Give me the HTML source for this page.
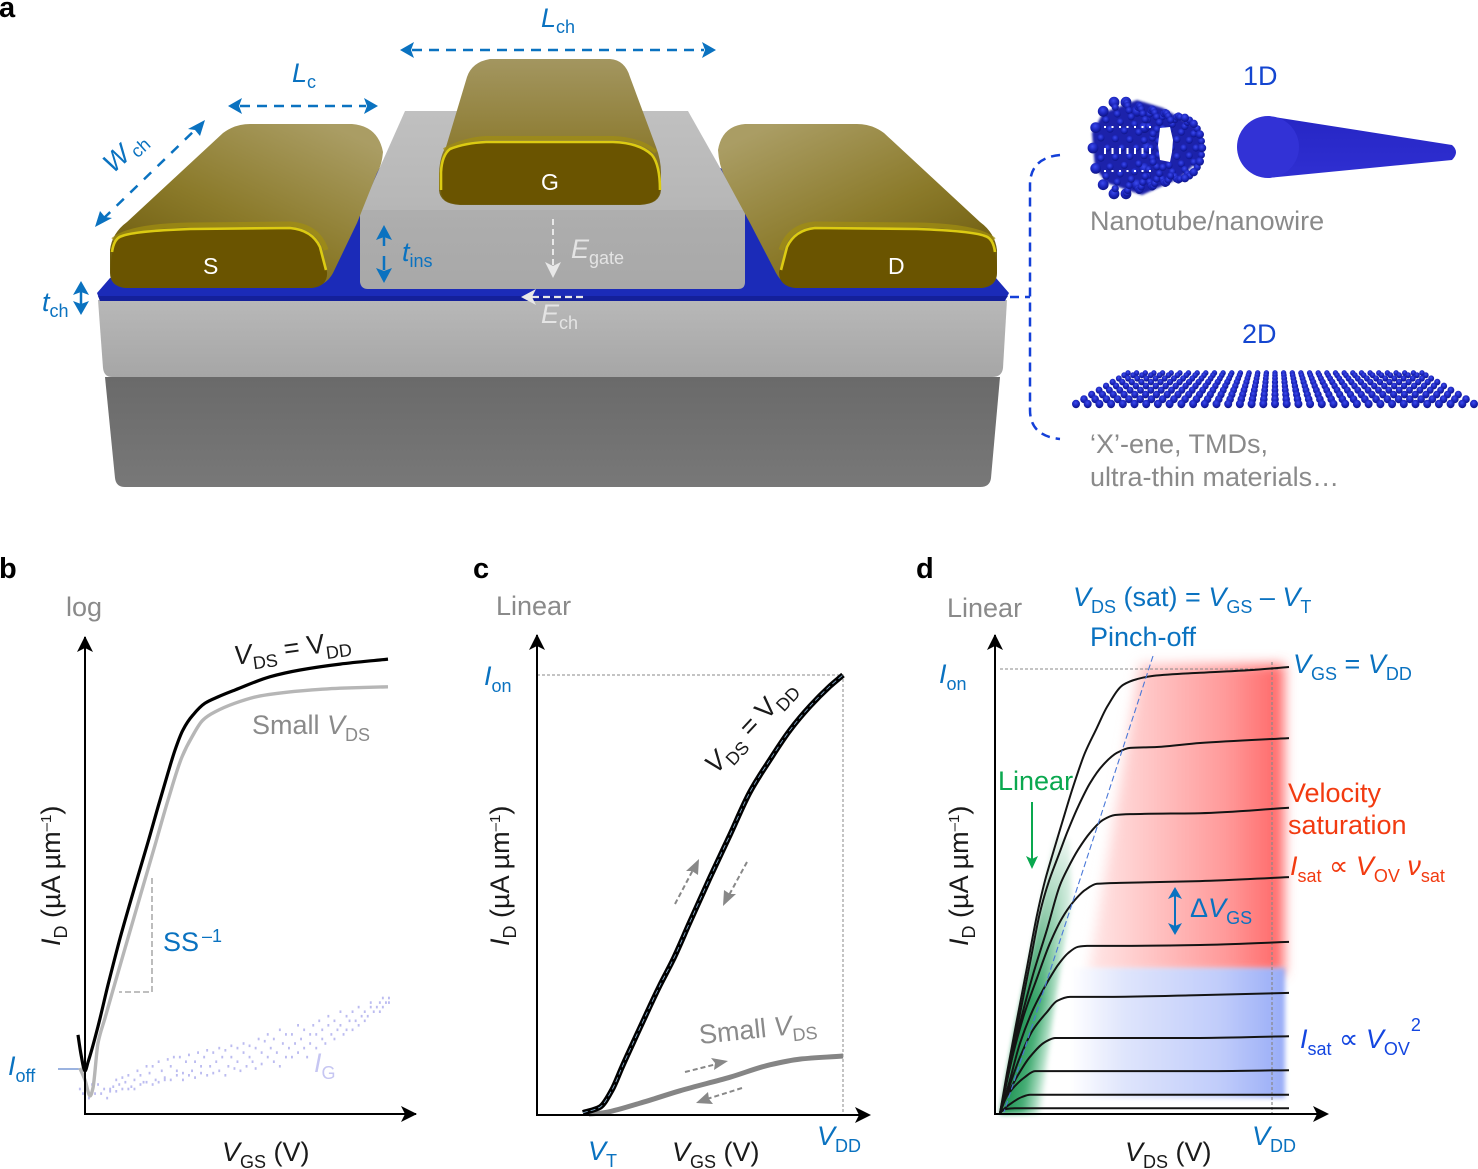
<!DOCTYPE html>
<html lang="en">
<head>
<meta charset="utf-8">
<title>Transistor device schematic and characteristic curves</title>
<style>
html,body{margin:0;padding:0;background:#fff;}
svg{display:block;font-family:"Liberation Sans",sans-serif;}
text{font-size:27px;}
.blue{fill:#0a72c0;}
.grey{fill:#8a8a8a;}
.blk{fill:#1a1a1a;}
.panel{font-weight:bold;font-size:29px;fill:#000;}
</style>
</head>
<body>
<svg id="fig" xmlns="http://www.w3.org/2000/svg" width="1478" height="1169" viewBox="0 0 1478 1169">
<defs>
  <linearGradient id="baseG" x1="0" y1="0" x2="0" y2="1"><stop offset="0" stop-color="#6a6a6a"/><stop offset="1" stop-color="#787878"/></linearGradient>
  <linearGradient id="midG" x1="0" y1="0" x2="0" y2="1"><stop offset="0" stop-color="#b8b8b8"/><stop offset="1" stop-color="#a6a6a6"/></linearGradient>
  <linearGradient id="insTop" x1="0" y1="0" x2="0" y2="1"><stop offset="0" stop-color="#c0c0c0"/><stop offset="1" stop-color="#b6b6b6"/></linearGradient>
  <linearGradient id="insFront" x1="0" y1="0" x2="0" y2="1"><stop offset="0" stop-color="#aeaeae"/><stop offset="1" stop-color="#a8a8a8"/></linearGradient>
  <linearGradient id="goldTop" x1="0" y1="0" x2="0" y2="1"><stop offset="0" stop-color="#a39660"/><stop offset="0.55" stop-color="#8f7e36"/><stop offset="1" stop-color="#6c5a0c"/></linearGradient>
  <linearGradient id="goldS" x1="0" y1="1" x2="0.8" y2="0"><stop offset="0" stop-color="#665406"/><stop offset="0.5" stop-color="#8b7a2a"/><stop offset="1" stop-color="#aa9d64"/></linearGradient>
  <linearGradient id="goldD" x1="1" y1="1" x2="0.2" y2="0"><stop offset="0" stop-color="#665406"/><stop offset="0.5" stop-color="#8b7a2a"/><stop offset="1" stop-color="#aa9d64"/></linearGradient>
  <linearGradient id="wireG" x1="0" y1="0" x2="0" y2="1"><stop offset="0" stop-color="#2626c4"/><stop offset="1" stop-color="#2f2fd2"/></linearGradient>
  <radialGradient id="ball" cx="0.45" cy="0.35" r="0.65"><stop offset="0" stop-color="#3c4af0"/><stop offset="0.6" stop-color="#1a24b8"/><stop offset="1" stop-color="#0e1484"/></radialGradient>
  <linearGradient id="redG" gradientUnits="userSpaceOnUse" x1="1095" y1="0" x2="1285" y2="0"><stop offset="0" stop-color="#ffe4e4"/><stop offset="0.3" stop-color="#ffc4c4"/><stop offset="0.7" stop-color="#ff9898"/><stop offset="1" stop-color="#ff6464"/></linearGradient>
  <linearGradient id="blueG" gradientUnits="userSpaceOnUse" x1="1070" y1="0" x2="1285" y2="0"><stop offset="0" stop-color="#ffffff"/><stop offset="0.25" stop-color="#dfe5fc"/><stop offset="0.7" stop-color="#c0ccfa"/><stop offset="1" stop-color="#98acf7"/></linearGradient>
  <linearGradient id="greenG" gradientUnits="userSpaceOnUse" x1="1000" y1="0" x2="1042" y2="0" gradientTransform="matrix(1 0 -0.17 1 189.4 0)"><stop offset="0" stop-color="#1a8f4e"/><stop offset="0.5" stop-color="#45ad75"/><stop offset="0.8" stop-color="#a8dcc0"/><stop offset="1" stop-color="#ffffff"/></linearGradient>
  <linearGradient id="greenFade" gradientUnits="userSpaceOnUse" x1="0" y1="830" x2="0" y2="1000"><stop offset="0" stop-color="#fff" stop-opacity="0.95"/><stop offset="1" stop-color="#fff" stop-opacity="0"/></linearGradient>
  <filter id="blur6" x="-20%" y="-20%" width="140%" height="140%"><feGaussianBlur stdDeviation="6"/></filter>
  <filter id="blur2" x="-20%" y="-20%" width="140%" height="140%"><feGaussianBlur stdDeviation="2.5"/></filter>
  <filter id="blur1" x="-20%" y="-20%" width="140%" height="140%"><feGaussianBlur stdDeviation="1"/></filter>
</defs>

<g id="panel-a">
  <path d="M105,377 L1000,377 L991,478 Q990,487 980,487 L125,487 Q116,487 115,478 Z" fill="url(#baseG)"/>
  <path d="M98,300 L1007,300 L1003,368 Q1002,377 992,377 L112,377 Q104,377 103,368 Z" fill="url(#midG)"/>
  <path d="M380,168 L720,168 L996,278 L1009,293 L1005,301 L100,301 L97,293 L110,278 Z" fill="#1b2bb8"/>
  <path d="M98,296 L1008,296 L1004,301 L100,301 Z" fill="#14209a"/>

  <path d="M405,111 L688,111 L745,212 L360,212 Z" fill="url(#insTop)"/>
  <path d="M360,210 L745,210 L745,282 Q745,289 738,289 L368,289 Q361,289 360,282 Z" fill="url(#insFront)"/>

  <path d="M110,273 L110,250 Q112,233 127,222 L223,133 Q235,124 250,124 L352,124 Q378,126 383,152 Q382,165 377,173 L357,223 L333,273 Q326,286 310,288 L125,288 Q110,286 110,273 Z" fill="url(#goldS)"/>
  <path d="M111,272 Q110,245 122,236 Q135,231 190,229 L290,228 Q312,230 320,247 L327,272 Q328,286 312,288 L128,288 Q111,287 111,272 Z" fill="#6a5400"/>
  <path d="M113,240 Q130,226 190,225 L290,224 Q318,226 326,250" fill="none" stroke="#a18e10" stroke-width="5" opacity="0.7"/>
  <path d="M112,252 Q114,238 122,236 Q135,231 190,229 L290,228 Q312,230 320,247 L326,270" fill="none" stroke="#dccb12" stroke-width="2.6"/>

  <path d="M997,273 L997,250 Q995,233 980,222 L884,133 Q872,124 857,124 L745,124 Q722,126 718,150 Q719,165 724,175 L750,223 L776,273 Q783,286 797,288 L982,288 Q997,286 997,273 Z" fill="url(#goldD)"/>
  <path d="M997,272 Q997,245 985,236 Q972,231 917,229 L815,228 Q795,230 787,247 L779,272 Q779,286 795,288 L980,288 Q996,287 997,272 Z" fill="#6a5400"/>
  <path d="M994,240 Q977,226 917,225 L815,224 Q789,226 781,250" fill="none" stroke="#a18e10" stroke-width="5" opacity="0.7"/>
  <path d="M995,252 Q993,238 985,236 Q972,231 917,229 L815,228 Q795,230 787,247 L781,270" fill="none" stroke="#dccb12" stroke-width="2.6"/>

  <path d="M439,185 L439,173 Q440,155 446,147 L467,77 Q472,62 490,59 L610,59 Q625,60 630,77 L656,147 Q661,160 661,173 L661,190 Q660,204 640,205 L460,205 Q440,204 439,190 Z" fill="url(#goldTop)"/>
  <path d="M441,190 L441,172 Q442,155 450,149 Q465,143 486,142 L613,142 Q640,143 652,155 Q660,165 660,190 Q659,204 640,204 L460,204 Q441,204 441,190 Z" fill="#6a5400"/>
  <path d="M444,150 Q465,139 486,138 L613,138 Q640,139 656,152" fill="none" stroke="#a18e10" stroke-width="4" opacity="0.7"/>
  <path d="M441,190 L441,172 Q442,155 450,149 Q465,143 486,142 L613,142 Q640,143 652,155 Q660,165 660,190" fill="none" stroke="#dccb12" stroke-width="2.6"/>

  <text x="203" y="274" style="font-size:23px" fill="#fff">S</text>
  <text x="541" y="190" style="font-size:23px" fill="#fff">G</text>
  <text x="888" y="274" style="font-size:23px" fill="#fff">D</text>

  <g fill="#0a72c0">
    <line x1="412" y1="50" x2="704" y2="50" stroke="#0a72c0" stroke-width="2.5" stroke-dasharray="10 7"/>
    <path d="M400,50 L414,42 L411,50 L414,58 Z M716,50 L702,42 L705,50 L702,58 Z"/>
  </g>
  <g fill="#0a72c0">
    <line x1="240" y1="106" x2="366" y2="106" stroke="#0a72c0" stroke-width="2.5" stroke-dasharray="10 7"/>
    <path d="M228,106 L242,98 L239,106 L242,114 Z M378,106 L364,98 L367,106 L364,114 Z"/>
  </g>
  <g fill="#0a72c0">
    <line x1="103" y1="219" x2="197" y2="128" stroke="#0a72c0" stroke-width="2.5" stroke-dasharray="10 9"/>
    <path d="M95,227 L100,211 L105,217 L112,218 Z M205,120 L200,136 L195,130 L188,129 Z"/>
  </g>
  <g fill="#0a72c0">
    <line x1="81" y1="288" x2="81" y2="308" stroke="#0a72c0" stroke-width="2.5"/>
    <path d="M81,281 L89,295 L81,292 L73,295 Z M81,315 L89,301 L81,304 L73,301 Z"/>
  </g>
  <g fill="#0a72c0">
    <line x1="384" y1="232" x2="384" y2="276" stroke="#0a72c0" stroke-width="2.5" stroke-dasharray="14 10"/>
    <path d="M384,225 L392,240 L384,237 L376,240 Z M384,283 L392,268 L384,271 L376,268 Z"/>
  </g>
  <g fill="#e8e8e8">
    <line x1="553" y1="219" x2="553" y2="268" stroke="#e8e8e8" stroke-width="2" stroke-dasharray="6 4"/>
    <path d="M553,278 L545,262 L553,266 L561,262 Z"/>
  </g>
  <g fill="#e8e8e8">
    <line x1="532" y1="297" x2="584" y2="297" stroke="#e8e8e8" stroke-width="2.2" stroke-dasharray="7 4"/>
    <path d="M521,297 L536,289 L532,297 L536,305 Z"/>
  </g>

  <text class="blue" x="541" y="27" font-style="italic">L<tspan font-style="normal" dy="6" style="font-size:18px">ch</tspan></text>
  <text class="blue" x="292" y="82" font-style="italic">L<tspan font-style="normal" dy="6" style="font-size:18px">c</tspan></text>
  <text class="blue" transform="translate(113,174) rotate(-42)" font-style="italic">W<tspan font-style="normal" dx="3" dy="5" style="font-size:18px">ch</tspan></text>
  <text class="blue" x="42" y="311" font-style="italic">t<tspan font-style="normal" dy="6" style="font-size:18px">ch</tspan></text>
  <text class="blue" x="402" y="261" font-style="italic">t<tspan font-style="normal" dy="6" style="font-size:18px">ins</tspan></text>
  <text x="571" y="258" font-style="italic" fill="#e4e4e4">E<tspan font-style="normal" dy="6" style="font-size:18px">gate</tspan></text>
  <text x="541" y="323" font-style="italic" fill="#e4e4e4">E<tspan font-style="normal" dy="6" style="font-size:18px">ch</tspan></text>

  <path d="M1060,155 Q1030,158 1030,185 L1030,410 Q1030,436 1060,439 M1010,297 L1030,297" fill="none" stroke="#1440d8" stroke-width="2.5" stroke-dasharray="9 6"/>
  <path d="M1103,113 L1137,100 L1163,108 L1200,130 L1202,157 L1180,178 L1142,195 L1107,183 L1095,168 L1092,133 Z" fill="#1a20aa" filter="url(#blur1)"/>
  <g id="nanotube"></g>
  <path d="M1268,116 L1452,145 Q1460,152 1452,160 L1268,178 Z" fill="url(#wireG)"/>
  <ellipse cx="1268" cy="147" rx="31" ry="31" fill="#3232d6"/>
  <g id="sheet"></g>
  <text x="1243" y="85" fill="#1446d0">1D</text>
  <text x="1242" y="343" fill="#1446d0">2D</text>
  <text class="grey" x="1090" y="230">Nanotube/nanowire</text>
  <text class="grey" x="1090" y="453">‘X’-ene, TMDs,</text>
  <text class="grey" x="1090" y="486">ultra-thin materials…</text>
</g>

<text class="panel" style="font-size:29px" x="-1" y="17">a</text>
<text class="panel" style="font-size:29px" x="-1" y="578">b</text>
<text class="panel" style="font-size:29px" x="473" y="578">c</text>
<text class="panel" style="font-size:29px" x="916" y="578">d</text>

<g id="panel-b">
  <g id="b-ig"></g>
  <path d="M152,878 L152,992 L119,992" fill="none" stroke="#999" stroke-width="1.3" stroke-dasharray="6 3"/>
  <line x1="58" y1="1069" x2="80" y2="1069" stroke="#7a9ad6" stroke-width="1.5"/>
  <g id="b-lines"></g>
  <line x1="85" y1="1115" x2="85" y2="637" stroke="#000" stroke-width="2"/>
  <path d="M85,636 L93,652 L85,648 L77,652 Z" fill="#000"/>
  <line x1="84" y1="1114" x2="416" y2="1114" stroke="#000" stroke-width="2"/>
  <path d="M417,1114 L401,1106 L405,1114 L401,1122 Z" fill="#000"/>
  <text class="grey" x="66" y="616">log</text>
  <text class="blk" transform="translate(60,946) rotate(-90)"><tspan font-style="italic">I</tspan><tspan dy="7" style="font-size:18px">D</tspan><tspan dy="-7"> (µA µm</tspan><tspan dy="-9" style="font-size:15px">–1</tspan><tspan dy="9">)</tspan></text>
  <text class="blk" x="222" y="1161"><tspan font-style="italic">V</tspan><tspan dy="7" style="font-size:18px">GS</tspan><tspan dy="-7"> (V)</tspan></text>
  <text class="blue" x="163" y="951">SS<tspan dx="3" dy="-9" style="font-size:18px">–1</tspan></text>
  <text class="blk" transform="translate(235,665) rotate(-8)"><tspan font-style="italic">V</tspan><tspan dy="7" style="font-size:18px">DS</tspan><tspan dy="-7"> = V</tspan><tspan dy="7" style="font-size:18px">DD</tspan></text>
  <text class="grey" x="252" y="734">Small <tspan font-style="italic">V</tspan><tspan dy="7" style="font-size:18px">DS</tspan></text>
  <text class="blue" x="8" y="1075"><tspan font-style="italic">I</tspan><tspan dy="7" style="font-size:18px">off</tspan></text>
  <text x="314" y="1072" fill="#c6c6f2"><tspan font-style="italic">I</tspan><tspan dy="7" style="font-size:18px">G</tspan></text>
</g>

<g id="panel-c">
  <path d="M537,675 L843,675 L843,1115" fill="none" stroke="#888" stroke-width="1" stroke-dasharray="3 2"/>
  <g id="c-lines"></g>
  <g stroke="#888" stroke-width="2" stroke-dasharray="5 3" fill="none">
    <line x1="675" y1="904" x2="694" y2="868"/><line x1="747" y1="862" x2="728" y2="897"/>
    <line x1="685" y1="1072" x2="717" y2="1064"/><line x1="742" y1="1088" x2="707" y2="1099"/>
  </g>
  <g fill="#888">
    <path d="M699,859 L698,875 L692,871 L686,871 Z M723,906 L724,890 L730,894 L736,894 Z M728,1061 L714,1070 L715,1063 L711,1058 Z M696,1103 L708,1092 L709,1099 L713,1104 Z"/>
  </g>
  <line x1="537" y1="1115" x2="537" y2="635" stroke="#000" stroke-width="2"/>
  <path d="M537,634 L545,650 L537,646 L529,650 Z" fill="#000"/>
  <line x1="536" y1="1115" x2="868" y2="1115" stroke="#000" stroke-width="2"/>
  <path d="M871,1115 L855,1107 L859,1115 L855,1123 Z" fill="#000"/>
  <text class="grey" x="496" y="615">Linear</text>
  <text class="blue" x="484" y="685"><tspan font-style="italic">I</tspan><tspan dy="7" style="font-size:18px">on</tspan></text>
  <text class="blk" transform="translate(509,946) rotate(-90)"><tspan font-style="italic">I</tspan><tspan dy="7" style="font-size:18px">D</tspan><tspan dy="-7"> (µA µm</tspan><tspan dy="-9" style="font-size:15px">–1</tspan><tspan dy="9">)</tspan></text>
  <text class="blk" transform="translate(716,775) rotate(-47)"><tspan font-style="italic">V</tspan><tspan dy="7" style="font-size:18px">DS</tspan><tspan dy="-7"> = V</tspan><tspan dy="7" style="font-size:18px">DD</tspan></text>
  <text class="grey" transform="translate(700,1044) rotate(-6)">Small <tspan font-style="italic">V</tspan><tspan dy="7" style="font-size:18px">DS</tspan></text>
  <text class="blue" x="588" y="1160"><tspan font-style="italic">V</tspan><tspan dy="7" style="font-size:18px">T</tspan></text>
  <text class="blk" x="672" y="1161"><tspan font-style="italic">V</tspan><tspan dy="7" style="font-size:18px">GS</tspan><tspan dy="-7"> (V)</tspan></text>
  <text class="blue" x="817" y="1145"><tspan font-style="italic">V</tspan><tspan dy="7" style="font-size:18px">DD</tspan></text>
</g>

<g id="panel-d">
  <path d="M1140,664 L1284,664 L1284,974 L1088,974 Z" fill="url(#redG)" filter="url(#blur6)"/>
  <path d="M1070,968 L1285,968 L1285,1098 L1070,1098 Z" fill="url(#blueG)" filter="url(#blur2)"/>
  <path d="M1000,1114 L1042,1114 L1048,1060 L1056,1000 L1072,900 L1070,840 L1055,835 L1045,885 L1015,1030 Z" fill="url(#greenG)" filter="url(#blur2)"/>
  <path d="M1040,825 L1080,825 L1080,1000 L1020,1000 Z" fill="url(#greenFade)"/>
  <path d="M1000,669 L1280,669" fill="none" stroke="#888" stroke-width="1" stroke-dasharray="3 2"/>
  <path d="M1272,662 L1272,1114" fill="none" stroke="#888" stroke-width="1.2" stroke-dasharray="3 2"/>
  <g id="d-lines"></g>
  <line x1="1153" y1="656" x2="1004" y2="1112" stroke="#4a78d8" stroke-width="1.1" stroke-dasharray="6 3"/>
  <g>
    <line x1="1032" y1="802" x2="1032" y2="862" stroke="#0aa84f" stroke-width="2"/>
    <path d="M1032,869 L1026,856 L1032,859 L1038,856 Z" fill="#0aa84f"/>
  </g>
  <g fill="#0a72c0">
    <line x1="1175" y1="893" x2="1175" y2="930" stroke="#0a72c0" stroke-width="2"/>
    <path d="M1175,887 L1182,899 L1175,896 L1168,899 Z M1175,935 L1182,923 L1175,926 L1168,923 Z"/>
  </g>
  <line x1="995" y1="1115" x2="995" y2="635" stroke="#000" stroke-width="2"/>
  <path d="M995,634 L1003,650 L995,646 L987,650 Z" fill="#000"/>
  <line x1="994" y1="1114" x2="1325" y2="1114" stroke="#000" stroke-width="2"/>
  <path d="M1329,1114 L1313,1106 L1317,1114 L1313,1122 Z" fill="#000"/>
  <text class="grey" x="947" y="617">Linear</text>
  <text class="blue" x="939" y="683"><tspan font-style="italic">I</tspan><tspan dy="7" style="font-size:18px">on</tspan></text>
  <text class="blk" transform="translate(968,946) rotate(-90)"><tspan font-style="italic">I</tspan><tspan dy="7" style="font-size:18px">D</tspan><tspan dy="-7"> (µA µm</tspan><tspan dy="-9" style="font-size:15px">–1</tspan><tspan dy="9">)</tspan></text>
  <text class="blue" x="1073" y="606"><tspan font-style="italic">V</tspan><tspan dy="7" style="font-size:18px">DS</tspan><tspan dy="-7"> (sat) = </tspan><tspan font-style="italic">V</tspan><tspan dy="7" style="font-size:18px">GS</tspan><tspan dy="-7"> – </tspan><tspan font-style="italic">V</tspan><tspan dy="7" style="font-size:18px">T</tspan></text>
  <text class="blue" x="1090" y="646">Pinch-off</text>
  <text class="blue" x="1293" y="673"><tspan font-style="italic">V</tspan><tspan dy="7" style="font-size:18px">GS</tspan><tspan dy="-7"> = </tspan><tspan font-style="italic">V</tspan><tspan dy="7" style="font-size:18px">DD</tspan></text>
  <text x="998" y="790" fill="#0aa84f">Linear</text>
  <text x="1288" y="802" fill="#f23a10">Velocity</text>
  <text x="1288" y="834" fill="#f23a10">saturation</text>
  <text x="1290" y="875" fill="#f23a10"><tspan font-style="italic">I</tspan><tspan dy="7" style="font-size:18px">sat</tspan><tspan dy="-7"> ∝ </tspan><tspan font-style="italic">V</tspan><tspan dy="7" style="font-size:18px">OV</tspan><tspan dy="-7"> </tspan><tspan font-style="italic">ν</tspan><tspan dy="7" style="font-size:18px">sat</tspan></text>
  <text class="blue" x="1190" y="917">Δ<tspan font-style="italic">V</tspan><tspan dy="7" style="font-size:18px">GS</tspan></text>
  <text x="1300" y="1048" fill="#1446e0"><tspan font-style="italic">I</tspan><tspan dy="7" style="font-size:18px">sat</tspan><tspan dy="-7"> ∝ </tspan><tspan font-style="italic">V</tspan><tspan dy="7" style="font-size:18px">OV</tspan><tspan dy="-24" dx="1" style="font-size:18px">2</tspan></text>
  <text class="blk" x="1125" y="1161"><tspan font-style="italic">V</tspan><tspan dy="7" style="font-size:18px">DS</tspan><tspan dy="-7"> (V)</tspan></text>
  <text class="blue" x="1252" y="1145"><tspan font-style="italic">V</tspan><tspan dy="7" style="font-size:18px">DD</tspan></text>
</g>

<script>
// Panel b: transfer curves, log current (arbitrary units, 0-100 on each axis)
const bHighX = [-2.3,-1.3,0,1,4,7.6,11.6,16.5,20.5,24.1,27.4,29.7,32.3,35.6,39.6,43.9,49.5,61,71,84.2,100];
const bHighY = [17.6,13.2,9.7,11.6,18.7,28.6,38.9,50.3,59.3,67.7,75.2,80.2,84.6,87.9,90.5,91.9,93.4,96.3,97.8,99.1,100.2];
const bLowX = [-1.7,0,1.7,2.6,4.3,6.6,9.9,14.2,18.8,23.1,27.4,32,35.3,38.9,42.9,49.5,57.8,71,84.2,100];
const bLowY = [10.3,7.7,4.2,5.9,15.8,21.3,29,38.9,49.5,59.3,69.2,78.7,83.1,86.8,88.6,90.5,92.1,93.2,93.8,94.1];
const igX = [-2,-1,0,1,2,3,4,5,6,7,
  8,8,9,10,10,11,12,12,13,14,
  14,15,16,16,17,18,18,19,20,20,
  21,22,22,23,24,24,25,26,26,27,
  28,28,29,30,30,31,32,32,33,34,
  34,35,36,36,37,38,38,39,40,40,
  41,42,42,43,44,44,45,46,46,47,
  48,48,49,50,50,51,52,52,53,54,
  54,55,56,56,57,58,58,59,60,60,
  61,62,62,63,64,64,65,66,66,67,
  68,68,69,70,70,71,72,72,73,74,
  74,75,76,76,77,78,78,79,80,80,
  81,82,82,83,84,84,85,86,86,87,
  88,88,89,90,90,91,92,93,94,95,
  96,97,97,98,98,99,100,100,92,94];
const igY = [6,5,6,4,7,5,7,5,6,4,
  6,5.5,6.5,8,5.5,7,8.5,6,7.5,6,
  9,6.5,8,6,10,7,9,7.5,11,7.5,
  9.5,7,11,8,12,7.5,10,8.5,8,12.5,
  8,11,13,9,10,13,9.5,8,12,9,
  13.5,10,8.5,12,14,9.5,11,13,9,14.5,
  11,9.5,14,12,15,10,13,9,14.5,11,
  13,15.5,10.5,12,15,10,14,16,11,13,
  15.5,12,10.5,15,17,11.5,14,16.5,13,18,
  15,12,17,14,19,11,16,13,18,15,
  13,18,16,20,14,17,15,19,13,18,
  16,20,15,18,21,17,19,16,20,22,
  18,21,17,19,23,20,18,22,19,21,
  19,23,21,24,20,22,23,22,24,23,
  24,23,25,24,26,25,25,26,21,25];

// Panel c: transfer curves, linear current
const cHighX = [15,20.6,24.5,27.8,31.4,35.9,40.2,44.4,50,56.5,63.1,69.6,76.1,82.7,89.2,95.8,100];
const cHighY = [0.5,1.8,5.7,10.9,16.4,23.2,29.5,35.2,43.9,53.9,63.7,73.4,80.7,87.5,92.9,97.5,100];
const cLowX = [17,21.6,33.7,46.7,63.1,76.1,85.9,100];
const cLowY = [0.2,0.5,2.7,5.5,8.6,11.4,12.7,13.4];

// Panel d: output characteristics, one x/y array pair per gate voltage
const d1X = [0.7,3.1,6.5,10,13.4,16.2,18.9,22,25.8,29.9,34,37.5,43,47.8,53.3,69.4,86.6,100];
const d1Y = [0.2,9.2,21,32.9,44.5,52.3,58.4,65.1,73.2,80.8,86.4,91.1,96,97.3,98,98.7,99.3,100];
const d2X = [0.7,3.4,7.6,11,14.4,17.2,20.6,23.7,27.5,31.6,36.1,40.9,45.4,54.6,69.4,100];
const d2Y = [0.2,9.2,22.6,33.8,45,51.5,57.5,62.9,68.7,74,78.1,80.8,81.9,82.1,83,84.1];
const d3X = [0.7,3.4,7.6,12,16.8,21.3,23.7,27.5,31.6,36.1,40.2,45.4,69.4,100];
const d3Y = [0.2,8.3,20.4,31.1,41.2,51.2,54.6,59.1,62.9,65.8,66.9,67.1,67.3,68.5];
const d4X = [0.7,4.1,8.6,13.4,17.9,22,25.8,29.9,34,41.9,69.4,100];
const d4Y = [0.2,10.5,21.5,30.4,38.3,43.8,47.4,50.1,51.5,51.7,52.1,53];
const d5X = [0.7,3.4,7.6,12,16.8,20.6,24.1,27.5,30.6,41.9,69.4,100];
const d5Y = [0.2,6,15.9,23.3,29.3,33.3,36,37.4,37.6,37.6,37.8,38.5];
const d6X = [0.7,3.1,7.6,12,16.8,20.3,24.7,35.1,69.4,100];
const d6Y = [0.2,4.7,12.8,18.8,22.8,25.3,26.2,26.2,26.6,27.1];
const d7X = [0.7,2.4,6.5,11,16.2,19.6,35.1,69.4,100];
const d7Y = [0.2,3.1,8.3,12.8,16.1,17,17,17,17.4];
const d8X = [0.7,1.7,5.2,9.3,12.7,22,69.4,100];
const d8Y = [0.2,2.5,5.8,8.3,9.6,9.6,9.6,9.8];
const d9X = [0.7,1.7,4.1,8.2,11,35.1,100];
const d9Y = [0.2,0.9,2.2,3.8,4.3,4.3,4.3];
const d10X = [0.7,2.4,5.8,35.1,100];
const d10Y = [0.2,1.1,1.3,1.3,1.3];

const SVGNS = 'http://www.w3.org/2000/svg';

function bx(v){ return 85 + v * 3.03; }
function by(v){ return 1115 - v * 4.55; }
function cx(v){ return 537 + v * 3.06; }
function cy(v){ return 1115 - v * 4.4; }
function dx(v){ return 998 + v * 2.91; }
function dy(v){ return 1114 - v * 4.47; }

// Monotone cubic path through the mapped data points
function smoothPath(xs, ys, fx, fy){
  const n = Math.min(xs.length, ys.length);
  const px = [], py = [], h = [], s = [], m = [];
  for (let i = 0; i < n; i++) { px.push(fx(xs[i])); py.push(fy(ys[i])); }
  for (let i = 0; i < n - 1; i++) {
    h.push(px[i + 1] - px[i]);
    s.push((py[i + 1] - py[i]) / (h[i] || 1));
  }
  m.push(s[0]);
  for (let i = 1; i < n - 1; i++) {
    if (s[i - 1] * s[i] <= 0) { m.push(0); continue; }
    const w1 = 2 * h[i] + h[i - 1], w2 = h[i] + 2 * h[i - 1];
    m.push((w1 + w2) / (w1 / s[i - 1] + w2 / s[i]));
  }
  m.push(s[n - 2]);
  let d = 'M' + px[0].toFixed(1) + ',' + py[0].toFixed(1);
  for (let i = 0; i < n - 1; i++) {
    const t = h[i] / 3;
    d += 'C' + (px[i] + t).toFixed(1) + ',' + (py[i] + m[i] * t).toFixed(1) + ' ' + (px[i + 1] - t).toFixed(1) + ',' + (py[i + 1] - m[i + 1] * t).toFixed(1) + ' ' + px[i + 1].toFixed(1) + ',' + py[i + 1].toFixed(1);
  }
  return d;
}

function drawLine(parentId, xs, ys, fx, fy, color, width, name, dash){
  const el = document.createElementNS(SVGNS, 'path');
  el.setAttribute('d', smoothPath(xs, ys, fx, fy));
  el.setAttribute('fill', 'none');
  el.setAttribute('stroke', color);
  el.setAttribute('stroke-width', width);
  el.setAttribute('stroke-linejoin', 'round');
  if (dash) el.setAttribute('stroke-dasharray', dash);
  
  
  document.getElementById(parentId).appendChild(el);
}

// Panel b marks
igX.forEach(function(v, i){
  const dot = document.createElementNS(SVGNS, 'rect');
  dot.setAttribute('x', bx(v).toFixed(1));
  dot.setAttribute('y', by(igY[i]).toFixed(1));
  dot.setAttribute('width', '1.9');
  dot.setAttribute('height', '2.6');
  dot.setAttribute('fill', '#bcbcf0');
  
  
  document.getElementById('b-ig').appendChild(dot);
});
drawLine('b-lines', bLowX, bLowY, bx, by, '#b6b6b6', 3.4, 'small-vds-curve-b');
drawLine('b-lines', bHighX, bHighY, bx, by, '#000', 3.2, 'high-vds-curve-b');

// Panel c marks
drawLine('c-lines', cLowX, cLowY, cx, cy, '#858585', 5, 'small-vds-curve-c');
drawLine('c-lines', cHighX, cHighY, cx, cy, '#000', 5.5, 'high-vds-curve-c');
drawLine('c-lines', cHighX, cHighY, cx, cy, '#8fb6d8', 0.8, 'high-vds-curve-c-sweep', '5 3');

// Panel d marks
const dSeriesX = [d1X,d2X,d3X,d4X,d5X,d6X,d7X,d8X,d9X,d10X];
const dSeriesY = [d1Y,d2Y,d3Y,d4Y,d5Y,d6Y,d7Y,d8Y,d9Y,d10Y];
dSeriesX.forEach(function(xs, i){
  drawLine('d-lines', xs, dSeriesY[i], dx, dy, '#141414', 2, 'output-curve');
});

function ball(g, x, y, rx, ry){
  const c = document.createElementNS(SVGNS, 'ellipse');
  c.setAttribute('cx', x.toFixed(1));
  c.setAttribute('cy', y.toFixed(1));
  c.setAttribute('rx', rx.toFixed(1));
  c.setAttribute('ry', ry.toFixed(1));
  c.setAttribute('fill', 'url(#ball)');
  g.appendChild(c);
}

// Illustration: nanotube balls
(function(){
  const g = document.getElementById('nanotube');
  const N = 14, S = 10;
  for (let s = 0; s < S; s++) {
    const f = s / (S - 1);
    for (let k = 0; k < N; k++) {
      const t = (k + (s % 2) * 0.5) / N * Math.PI * 2;
      const sn = Math.sin(t), cs = Math.cos(t);
      const x = (1120 + 27 * cs) * (1 - f) + (1180 + 22 * cs) * f;
      const y = (148 + 47 * sn) * (1 - f) + (148 + 31 * sn) * f;
      const r = s === 0 ? 5.4 : 3.6;
      ball(g, x, y, r, r);
    }
  }
  for (let i = 0; i < 7; i++) {
    [126, 148, 170].forEach(function(rowY){
      const gap = document.createElementNS(SVGNS, 'rect');
      gap.setAttribute('x', String(1104 + i * 7.5));
      gap.setAttribute('y', String(rowY));
      gap.setAttribute('width', '2');
      gap.setAttribute('height', rowY === 148 ? '6' : '2');
      gap.setAttribute('fill', '#fff');
      g.appendChild(gap);
    });
  }
  const hole = document.createElementNS(SVGNS, 'path');
  hole.setAttribute('d', 'M1160,128 L1170,127 L1173,140 L1172,152 L1170,162 L1160,160 L1158,145 Z');
  hole.setAttribute('fill', '#fff');
  g.appendChild(hole);
  for (let k = 0; k < N; k++) {
    const t = k / N * Math.PI * 2;
    if (Math.cos(t) < 0.2) continue;
    ball(g, 1180 + 22 * Math.cos(t), 148 + 31 * Math.sin(t), 4.2, 4.2);
  }
})();

// Illustration: 2D sheet balls
(function(){
  const g = document.getElementById('sheet');
  const rows = 9, cols = 35;
  for (let r = 0; r < rows; r++) {
    const f = Math.pow(r / (rows - 1), 1.25);
    const y = 373 + f * 31, x0 = 1128 - f * 52, x1 = 1422 + f * 52;
    for (let i = 0; i < cols; i++) {
      ball(g, x0 + (x1 - x0) * i / (cols - 1), y, 2.7 + f * 1.3, 2.9 + f * 1.3);
    }
  }
})();
</script>
</svg>
</body>
</html>
